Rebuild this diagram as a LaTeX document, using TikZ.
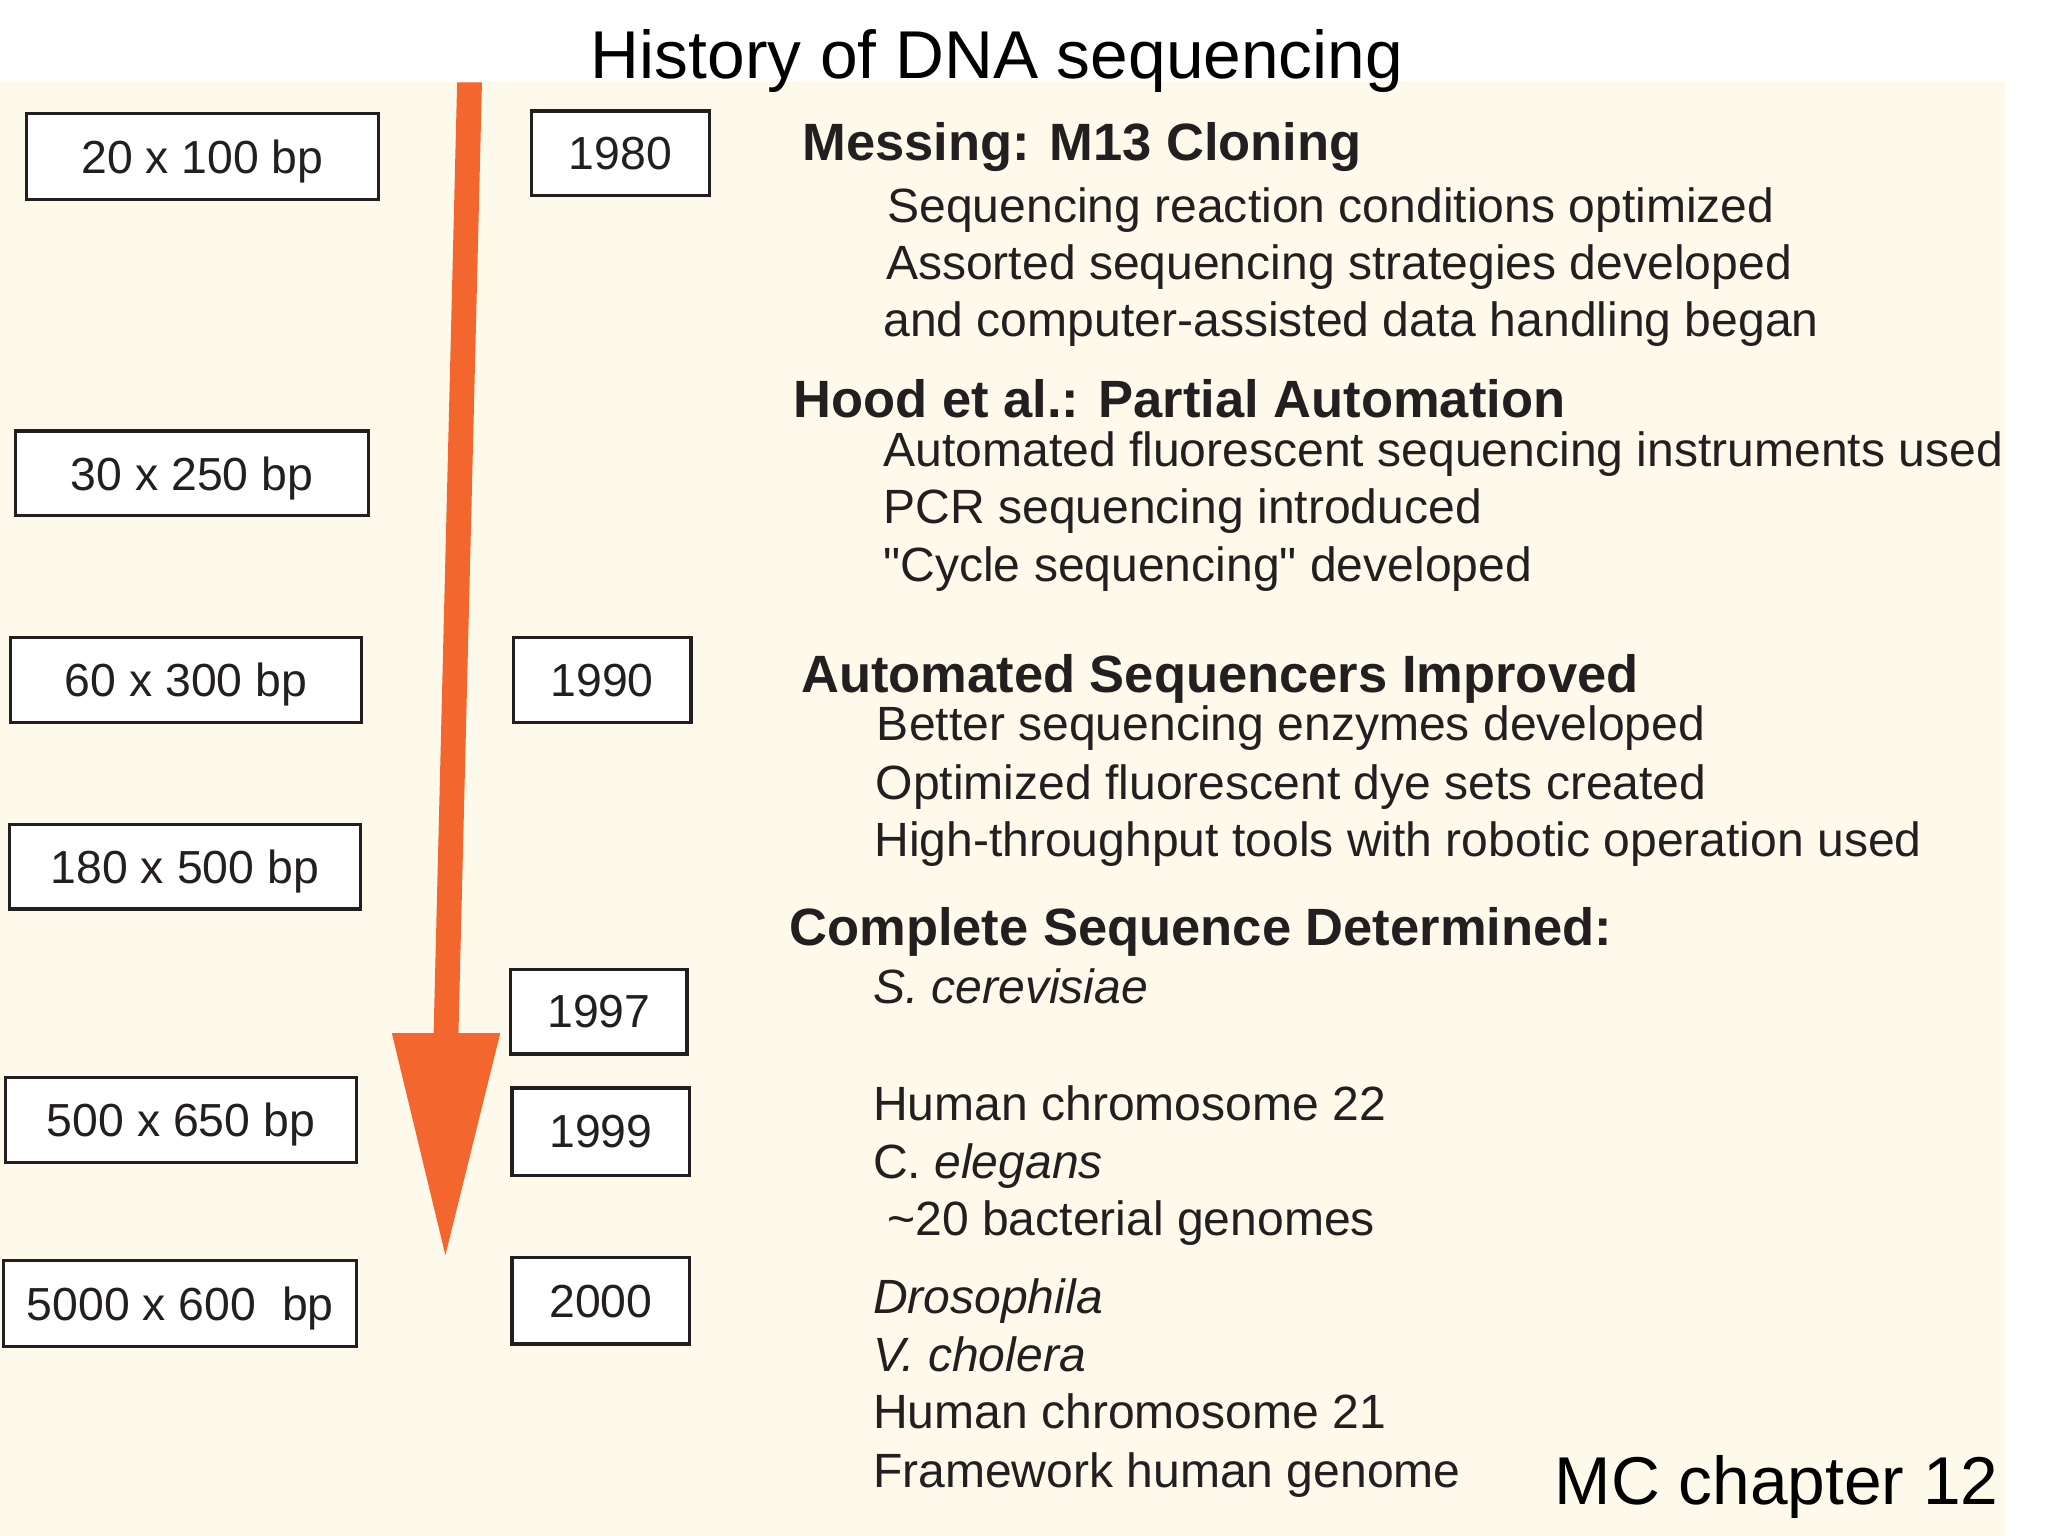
\documentclass[tikz,border=0pt]{standalone}
\usepackage{fontspec}
\setmainfont{Liberation Sans}
\definecolor{cream}{RGB}{253,250,235}
\definecolor{arroworange}{RGB}{243,102,46}
\definecolor{ink}{RGB}{35,31,32}
\begin{document}
\begin{tikzpicture}[x=0.5pt,y=-0.5pt,
  bpbox/.style={draw=ink, line width=1.2pt, fill=white, inner sep=0pt, text=ink,
    text depth=0pt, font=\fontsize{17.75}{20}\selectfont},
  head/.style={anchor=base west, inner sep=0pt, text=ink, font=\bfseries\fontsize{20.1}{24}\selectfont},
  body/.style={anchor=base west, inner sep=0pt, text=ink, font=\fontsize{18.4}{22}\selectfont},
  big/.style={anchor=base west, inner sep=0pt, text=black, font=\fontsize{25.9}{30}\selectfont}]
\useasboundingbox (0,0) rectangle (1568,1176);
\fill[white] (0,0) rectangle (1568,1176);
\fill[cream] (0,63) rectangle (1535,1176);
% title
\node[big] (title) at (452,60) {History of DNA sequencing};
% timeline arrow
\fill[arroworange] (350,63) -- (369,63) -- (351,791) -- (383,791) -- (341,961) -- (300,791) -- (332,791) -- cycle;
% size boxes
\node[bpbox, minimum width=135pt, minimum height=33pt] (b1) at (155,120) {20 x 100 bp};
\node[bpbox, minimum width=135pt, minimum height=32.5pt] (b2) at (147,362.5) {30 x 250 bp};
\node[bpbox, minimum width=134.5pt, minimum height=32.5pt] (b3) at (142.5,520.5) {60 x 300 bp};
\node[bpbox, minimum width=134.5pt, minimum height=32.5pt] (b4) at (141.5,663.5) {180 x 500 bp};
\node[bpbox, minimum width=134.5pt, minimum height=32.5pt] (b5) at (138.5,857.5) {500 x 650 bp};
\node[bpbox, minimum width=135pt, minimum height=33pt] (b6) at (138,998) {5000 x 600\ \ bp};
% year boxes
\node[bpbox, minimum width=68pt, minimum height=32.5pt] (y1980) at (475,117.5) {1980};
\node[bpbox, minimum width=68pt, minimum height=32.5pt] (y1990) at (461,520.5) {1990};
\node[bpbox, minimum width=67.5pt, minimum height=32.5pt] (y1997) at (458.5,774.5) {1997};
\node[bpbox, minimum width=68pt, minimum height=33.5pt] (y1999) at (460,866.5) {1999};
\node[bpbox, minimum width=68pt, minimum height=33pt] (y2000) at (460,996) {2000};
% right column
\node[head] (h1) at (614,123) {Messing: M13 Cloning};
\node[body] (t11) at (679,170) {Sequencing reaction conditions optimized};
\node[body] (t12) at (678,214) {Assorted sequencing strategies developed};
\node[body] (t13) at (676,258) {and computer-assisted data handling began};
\node[head] (h2) at (607,320) {Hood et al.: Partial Automation};
\node[body] (t21) at (676,357) {Automated fluorescent sequencing instruments used};
\node[body] (t22) at (676,401) {PCR sequencing introduced};
\node[body] (t23) at (676,445) {\textquotedbl Cycle sequencing\textquotedbl{} developed};
\node[head] (h3) at (613,530) {Automated Sequencers Improved};
\node[body] (t31) at (671,567) {Better sequencing enzymes developed};
\node[body] (t32) at (670,612) {Optimized fluorescent dye sets created};
\node[body] (t33) at (669,656) {High-throughput tools with robotic operation used};
\node[head] (h4) at (604,724) {Complete Sequence Determined:};
\node[body] (t41) at (668,768) {\itshape S. cerevisiae};
\node[body] (t42) at (668,858) {Human chromosome 22};
\node[body] (t43) at (668,902) {C. \textit{elegans}};
\node[body] (t44) at (679,946) {\textasciitilde 20 bacterial genomes};
\node[body] (t45) at (668,1006) {\itshape Drosophila};
\node[body] (t46) at (668,1050) {\itshape V. cholera};
\node[body] (t47) at (668,1094) {Human chromosome 21};
\node[body] (t48) at (668,1139) {Framework human genome};
\node[big] (mc) at (1190,1152) {MC chapter 12};
\end{tikzpicture}
\end{document}
